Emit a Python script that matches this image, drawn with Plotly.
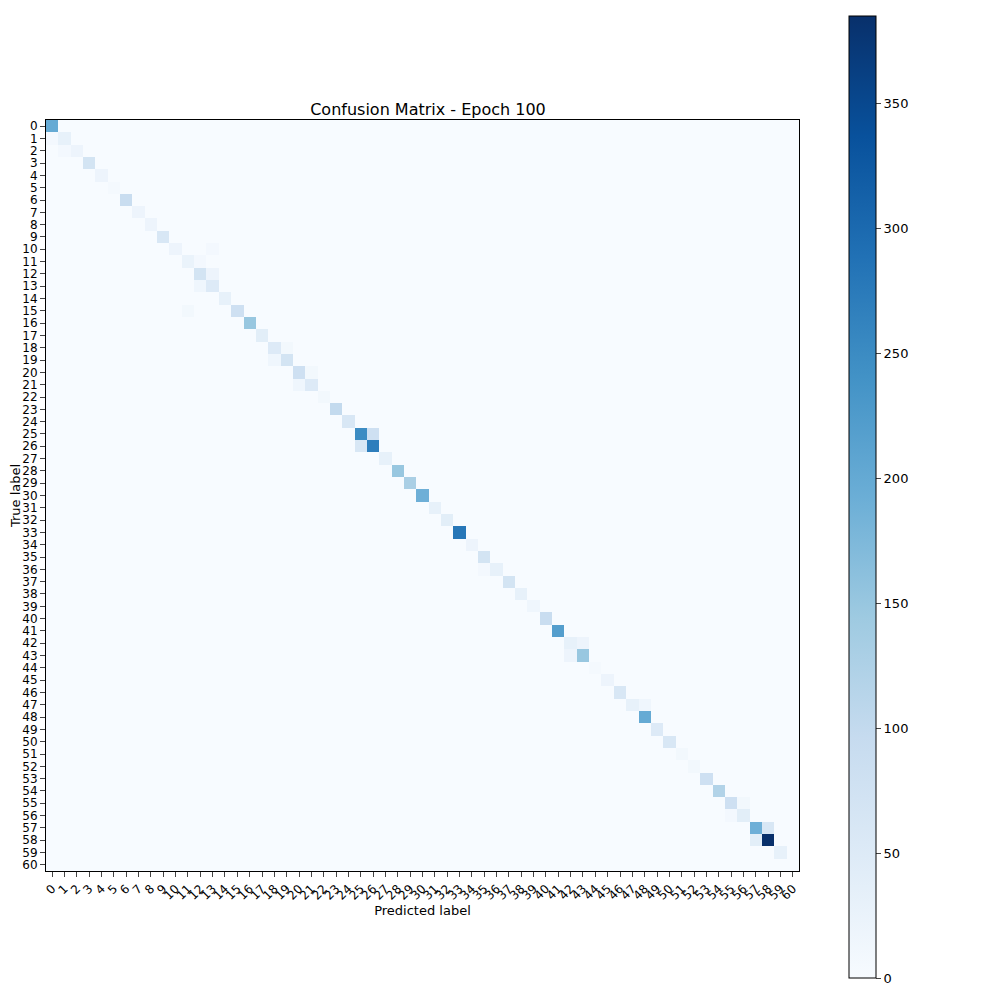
import plotly.graph_objects as go
import numpy as np

labels = [str(i) for i in range(61)]
diag = [200,30,20,70,20,5,90,20,20,60,20,25,70,50,30,80,150,40,50,70,
        80,50,10,100,60,250,270,30,150,130,190,30,40,280,20,70,30,70,30,15,
        90,220,30,150,5,20,60,30,200,50,60,10,10,80,120,80,40,190,385,30,0]
off_rows = [25,26,57,58,42,43,12,13,18,19,20,21,47,10,11,15,1,2,36,55,56]
off_cols = [26,25,58,57,43,42,13,12,19,18,21,20,48,13,12,11,0,1,35,56,55]
off_vals = [80,60,60,40,20,20,20,15,10,15,10,15,15,8,8,10,8,8,8,10,8]

z = np.zeros((61, 61))
for i, v in enumerate(diag):
    z[i, i] = v
for r, c, v in zip(off_rows, off_cols, off_vals):
    z[r, c] = v

fig = go.Figure(go.Heatmap(
    z=z, x=labels, y=labels, colorscale="Blues", zmin=0, zmax=385,
    colorbar=dict(x=1.053, xanchor="left", y=0.498, yanchor="middle",
                  len=1.308, lenmode="fraction", thickness=27,
                  outlinecolor="black", outlinewidth=1, ticks="outside",
                  tickvals=[0,50,100,150,200,250,300,350], tickfont=dict(size=13)),
))
fig.update_layout(
    width=1000, height=1000, plot_bgcolor="white", paper_bgcolor="white",
    margin=dict(l=38, r=209, t=112, b=137, autoexpand=False),
    font=dict(family="DejaVu Sans", color="black"),
    title=dict(text="Confusion Matrix - Epoch 100", x=0.42, xanchor="center", y=0.904, font=dict(size=16)),
    xaxis=dict(title=dict(text="Predicted label", font=dict(size=13), standoff=4), tickangle=-45,
               tickmode="array", tickvals=labels, ticktext=labels, tickfont=dict(size=12),
               ticks="outside", showline=True, mirror=True, linecolor="black", automargin=False),
    yaxis=dict(title=dict(text="True label", font=dict(size=13), standoff=2), autorange="reversed",
               tickmode="array", tickvals=labels, ticktext=labels, tickfont=dict(size=12),
               ticks="outside", showline=True, mirror=True, linecolor="black", automargin=False),
)
fig.write_html("out.html")
